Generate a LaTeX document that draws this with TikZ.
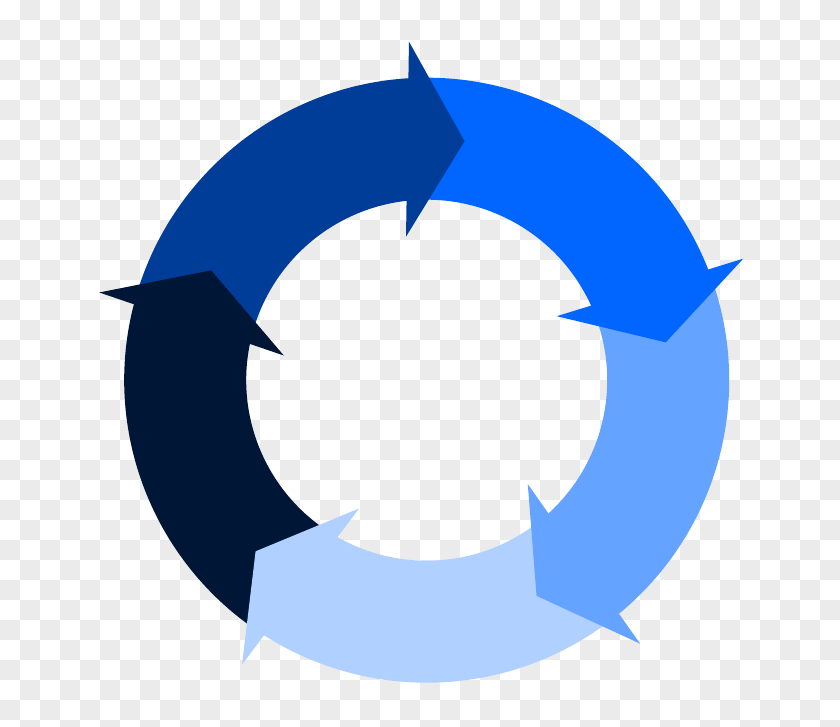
\documentclass[tikz,border=0pt]{standalone}
\definecolor{bggrey}{RGB}{235,235,235}
\definecolor{arrA}{RGB}{0,61,153}
\definecolor{arrB}{RGB}{0,102,255}
\definecolor{arrC}{RGB}{100,163,255}
\definecolor{arrD}{RGB}{176,208,255}
\definecolor{arrE}{RGB}{0,22,54}
\begin{document}
\begin{tikzpicture}[x=1pt,y=1pt,
  tile/.style={fill=bggrey},
  arrowpart/.style={fill=#1}]
\useasboundingbox (0,0) rectangle (840,726);
% checkerboard background
\begin{scope}
\clip (0,0) rectangle (840,726);
\fill[white] (0,0) rectangle (840,726);
\foreach \i in {0,...,41}{
  \foreach \j in {0,...,36}{
    \pgfmathtruncatemacro\myparity{mod(\i+\j,2)}
    \ifnum\myparity=1
      \fill[tile] (20*\i,726-20*\j) rectangle (20*\i+20,706-20*\j);
    \fi
  }
}
\end{scope}
% cycle of five arrows
\begin{scope}[shift={(426.7,345.8)}]
  % bodies
  \foreach \k/\col in {0/arrA,1/arrB,2/arrC,3/arrD,4/arrE}{
    \begin{scope}[rotate=-72*\k]
      \fill[arrowpart=\col] (164:302.5pt) arc[start angle=164,end angle=92,radius=302.5pt]
        -- (93:180.5pt) arc[start angle=93,end angle=165,radius=180.5pt] -- cycle;
    \end{scope}
  }
  % heads on top
  \foreach \k/\col in {0/arrA,1/arrB,2/arrC,3/arrD,4/arrE}{
    \begin{scope}[rotate=-72*\k]
      \fill[arrowpart=\col] (93:339pt) -- (81:242pt) -- (98.2:145pt) -- cycle;
    \end{scope}
  }
\end{scope}
\end{tikzpicture}
\end{document}
